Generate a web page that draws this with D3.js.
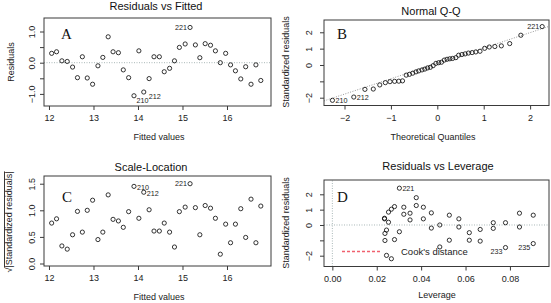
<!DOCTYPE html>
<html>
<head>
<meta charset="utf-8">
<script src="https://cdn.jsdelivr.net/npm/d3@7"></script>
<style>
  body { margin: 0; background: #fff; }
  svg { display: block; font-family: "Liberation Sans", Arial, sans-serif; }
</style>
</head>
<body>
<div id="viz"></div>
<script>
const fitted = [12.06, 12.17, 12.29, 12.41, 12.53, 12.64, 12.75, 12.86, 12.98, 13.10, 13.21, 13.33, 13.44, 13.56,
  13.67, 13.79, 13.91, 14.02, 14.13, 14.25, 14.36, 14.48, 14.59, 14.71, 14.82, 14.93, 15.06, 15.17,
  15.29, 15.39, 15.51, 15.63, 15.74, 15.85, 15.97, 16.08, 16.19, 16.31, 16.42, 16.54, 16.65, 16.76];
const residuals = [0.30, 0.35, 0.06, 0.04, -0.14, -0.48, 0.19, -0.49, -0.69, -0.10, 0.17, 0.83, 0.35, 0.32,
  -0.23, -0.48, -1.06, 0.38, -0.94, -0.51, 0.19, 0.19, -0.29, -0.18, 0.06, 0.49, 0.60, 1.13,
  0.57, 0.16, 0.61, 0.56, 0.38, 0.00, 0.30, -0.07, -0.26, -0.52, -0.13, -0.69, -0.07, -0.57];
const sqrtStdRes = [0.76, 0.84, 0.33, 0.27, 0.54, 0.98, 0.59, 1.00, 1.19, 0.45, 0.59, 1.29, 0.83, 0.80,
  0.68, 0.975, 1.45, 0.85, 1.34, 1.01, 0.61, 0.61, 0.76, 0.59, 0.31, 0.975, 1.06, 1.50,
  1.05, 0.54, 1.09, 1.04, 0.85, 0.175, 0.74, 0.39, 0.74, 1.03, 0.49, 1.21, 0.39, 1.08];
const qqTheoretical = [-2.26, -1.80, -1.56, -1.38, -1.24, -1.12, -1.02, -0.92, -0.83, -0.75, -0.67, -0.60, -0.53, -0.46,
  -0.40, -0.33, -0.27, -0.21, -0.15, -0.09, -0.03, 0.03, 0.09, 0.15, 0.21, 0.27, 0.33, 0.40,
  0.46, 0.53, 0.60, 0.67, 0.75, 0.83, 0.92, 1.02, 1.12, 1.24, 1.38, 1.56, 1.80, 2.26];
const qqSample = [-2.16, -1.96, -1.49, -1.47, -1.22, -1.08, -1.02, -1.00, -0.99, -0.97, -0.62, -0.57, -0.50, -0.42,
  -0.36, -0.30, -0.25, -0.18, -0.14, -0.04, 0.10, 0.14, 0.17, 0.30, 0.35, 0.38, 0.40, 0.45,
  0.60, 0.64, 0.68, 0.73, 0.76, 0.80, 0.84, 1.02, 1.10, 1.13, 1.17, 1.31, 1.82, 2.35];
const qqLine = [0.10, 0.94]; // intercept, slope
const leverage = [0.0905, 0.0843, 0.0780, 0.0725, 0.0666, 0.0617, 0.0570, 0.0527, 0.0484, 0.0446, 0.0410, 0.0378, 0.0350, 0.0322,
  0.0302, 0.0280, 0.0266, 0.0253, 0.0244, 0.0237, 0.0235, 0.0235, 0.0237, 0.0244, 0.0253, 0.0266, 0.0280, 0.0302,
  0.0322, 0.0350, 0.0378, 0.0410, 0.0446, 0.0484, 0.0527, 0.0570, 0.0617, 0.0666, 0.0725, 0.0780, 0.0843, 0.0905];
const stdRes = [0.64, 0.77, 0.15, 0.15, -0.29, -0.99, 0.40, -0.99, -1.43, -0.20, 0.40, 1.78, 0.77, 0.70,
  -0.44, -0.95, -2.20, 0.84, -1.98, -1.01, 0.44, 0.40, -0.55, -0.33, 0.18, 1.03, 1.20, 2.40,
  1.16, 0.33, 1.27, 1.16, 0.79, 0.00, 0.64, -0.13, -0.50, -1.05, -0.22, -1.47, -0.13, -1.21];

// point labels: [index, text]
const idsFitted = [[16, '210'], [18, '212'], [27, '221']];
const idsQQ = [[0, '210'], [1, '212'], [41, '221']];
const idsLev = [[27, '221'], [39, '233'], [41, '235']];

const ticksFitted = [12, 13, 14, 15, 16];
const ticksResid = [-1, -0.5, 0, 0.5, 1];
const ticksQQx = [-2, -1, 0, 1, 2];
const ticksStd = [-2, -1, 0, 1, 2];
const ticksScale = [0, 0.5, 1, 1.5];
const ticksLev = [0, 0.02, 0.04, 0.06, 0.08];

// ===== canvas =====
const svg = d3.select('#viz').append('svg')
  .attr('width', 551)
  .attr('height', 303);

const INK = '#222';
const GUIDE = '#a9b7b7';

function drawPanel(p) {
  const x = d3.scaleLinear().domain(p.xlim).range([p.box[0], p.box[1]]);
  const y = d3.scaleLinear().domain(p.ylim).range([p.box[3], p.box[2]]);
  const g = svg.append('g');

  // reference lines (under points)
  if (p.guides) p.guides(g, x, y);

  // points
  g.append('g').selectAll('circle')
    .data(p.xs)
    .join('circle')
      .attr('cx', d => x(d))
      .attr('cy', (d, i) => y(p.ys[i]))
      .attr('r', 2.1)
      .attr('fill', 'none')
      .attr('stroke', '#111')
      .attr('stroke-width', 0.85);

  // id labels
  g.append('g').selectAll('text')
    .data(p.ids)
    .join('text')
      .attr('x', d => x(p.xs[d[0]]) + p.idOffset(d)[0])
      .attr('y', d => y(p.ys[d[0]]) + p.idOffset(d)[1])
      .attr('text-anchor', d => p.idOffset(d)[2])
      .attr('font-size', 7.2)
      .attr('fill', INK)
      .text(d => d[1]);

  // box
  g.append('rect')
    .attr('x', p.box[0]).attr('y', p.box[2])
    .attr('width', p.box[1] - p.box[0]).attr('height', p.box[3] - p.box[2])
    .attr('fill', 'none').attr('stroke', '#3a3a3a').attr('stroke-width', 1);

  // x axis
  const xAxis = g.append('g')
    .attr('transform', `translate(0,${p.box[3]})`)
    .call(d3.axisBottom(x).tickValues(p.xticks).tickSize(4).tickPadding(p.xPad).tickFormat(p.xfmt));
  xAxis.select('.domain').remove();
  xAxis.selectAll('line').attr('stroke', '#3a3a3a');
  xAxis.selectAll('text').attr('font-size', 9).attr('fill', INK).attr('font-family', null);

  // y axis, labels parallel to the axis
  const yAxis = g.append('g')
    .attr('transform', `translate(${p.box[0]},0)`)
    .call(d3.axisLeft(y).tickValues(p.yticks).tickSize(4).tickFormat(p.yfmt));
  yAxis.select('.domain').remove();
  yAxis.selectAll('line').attr('stroke', '#3a3a3a');
  yAxis.selectAll('text')
    .attr('transform', 'rotate(-90)')
    .attr('x', 0).attr('y', -p.yPad).attr('dy', null)
    .attr('text-anchor', 'middle')
    .attr('font-size', 9).attr('fill', INK).attr('font-family', null);

  // titles
  g.append('text')
    .attr('x', p.title[1]).attr('y', p.title[2])
    .attr('text-anchor', 'middle').attr('font-size', 11).attr('fill', '#111')
    .text(p.title[0]);
  g.append('text')
    .attr('x', p.xlab[1]).attr('y', p.xlab[2])
    .attr('text-anchor', 'middle').attr('font-size', 9).attr('fill', INK)
    .text(p.xlab[0]);
  const yl = g.append('text')
    .attr('transform', `translate(${p.ylab[1]},${p.ylab[2]}) rotate(-90)`)
    .attr('text-anchor', 'middle').attr('font-size', 9).attr('fill', INK);
  if (p.ylabRoot) {
    yl.append('tspan').text('\u221A');
    yl.append('tspan').attr('text-decoration', 'overline').text('|Standardized residuals|');
  } else {
    yl.text(p.ylab[0]);
  }

  // panel letter
  g.append('text')
    .attr('x', p.letter[1]).attr('y', p.letter[2])
    .attr('font-family', '"Liberation Serif", "Times New Roman", serif')
    .attr('font-size', 15).attr('fill', '#111')
    .text(p.letter[0]);
}

const f1 = d => d3.format('.1f')(d);
const fInt = d => d3.format('d')(d);

// [A] Residuals vs Fitted
const offA = { '210': [2.5, 7, 'start'], '212': [5, 7, 'start'], '221': [-3, 2.5, 'end'] };
drawPanel({
  box: [44, 271, 18, 106], xlim: [11.888, 16.989], ylim: [-1.388, 1.433],
  xs: fitted, ys: residuals, ids: idsFitted,
  idOffset: d => offA[d[1]],
  xticks: ticksFitted, yticks: ticksResid, xPad: 5, yPad: 9,
  xfmt: fInt, yfmt: d => (Math.abs(d) % 1 === 0.5 ? '' : f1(d)),
  title: ['Residuals vs Fitted', 156, 9.5], xlab: ['Fitted values', 159, 140],
  ylab: ['Residuals', 13.5, 62], letter: ['A', 61, 39],
  guides: (g, x, y) => g.append('line')
    .attr('x1', x(11.888)).attr('x2', x(16.989)).attr('y1', y(0)).attr('y2', y(0))
    .attr('stroke', GUIDE).attr('stroke-dasharray', '1,1.5')
});

// [B] Normal Q-Q
drawPanel({
  box: [324, 549, 20, 105.5], xlim: [-2.442, 2.407], ylim: [-2.477, 2.752],
  xs: qqTheoretical, ys: qqSample, ids: idsQQ,
  idOffset: d => d[1] === '221' ? [-3, 2.5, 'end'] : [3, 2.5, 'start'],
  xticks: ticksQQx, yticks: ticksStd, xPad: 5, yPad: 12,
  xfmt: fInt, yfmt: d => (d === -1 ? '' : fInt(d)),
  title: ['Normal Q-Q', 431, 15], xlab: ['Theoretical Quantiles', 433, 140],
  ylab: ['Standardized residuals', 289, 62], letter: ['B', 337, 39],
  guides: (g, x, y) => g.append('line')
    .attr('x1', x(-2.442)).attr('x2', x(2.407))
    .attr('y1', y(qqLine[0] + qqLine[1] * -2.442)).attr('y2', y(qqLine[0] + qqLine[1] * 2.407))
    .attr('stroke', '#999').attr('stroke-dasharray', '1,1.5')
});

// [C] Scale-Location
drawPanel({
  box: [44, 271, 176, 266], xlim: [11.888, 16.989], ylim: [-0.047, 1.645],
  xs: fitted, ys: sqrtStdRes, ids: idsFitted,
  idOffset: d => d[1] === '221' ? [-3, 2.5, 'end'] : [3, 3.5, 'start'],
  xticks: ticksFitted, yticks: ticksScale, xPad: 5, yPad: 9,
  xfmt: fInt, yfmt: f1,
  title: ['Scale-Location', 151, 170.5], xlab: ['Fitted values', 159, 300],
  ylab: ['', 12, 222], ylabRoot: true, letter: ['C', 62, 202]
});

// [D] Residuals vs Leverage
drawPanel({
  box: [324, 549, 180, 266.5], xlim: [-0.00376, 0.0976], ylim: [-2.704, 2.932],
  xs: leverage, ys: stdRes, ids: idsLev,
  idOffset: d => d[1] === '221' ? [3, 3, 'start'] : [-3, 6, 'end'],
  xticks: ticksLev, yticks: ticksStd, xPad: 5, yPad: 12,
  xfmt: d => d3.format('.2f')(d), yfmt: d => (d === -1 ? '' : fInt(d)),
  title: ['Residuals vs Leverage', 438, 170], xlab: ['Leverage', 437, 298],
  ylab: ['Standardized residuals', 289, 223], letter: ['D', 337, 202],
  guides: (g, x, y) => {
    g.append('line')
      .attr('x1', x(-0.00376)).attr('x2', x(0.0976)).attr('y1', y(0)).attr('y2', y(0))
      .attr('stroke', GUIDE).attr('stroke-dasharray', '1,1.5');
    g.append('line')
      .attr('x1', x(0)).attr('x2', x(0)).attr('y1', y(-2.704)).attr('y2', y(2.932))
      .attr('stroke', GUIDE).attr('stroke-dasharray', '1,1.5');
    // Cook's distance legend
    g.append('line')
      .attr('x1', 342).attr('x2', 380).attr('y1', 251.5).attr('y2', 251.5)
      .attr('stroke', '#f0606e').attr('stroke-width', 1.5).attr('stroke-dasharray', '3,2');
    g.append('text')
      .attr('x', 401).attr('y', 255)
      .attr('font-size', 9.5).attr('fill', INK)
      .text("Cook's distance");
  }
});
</script>
</body>
</html>
